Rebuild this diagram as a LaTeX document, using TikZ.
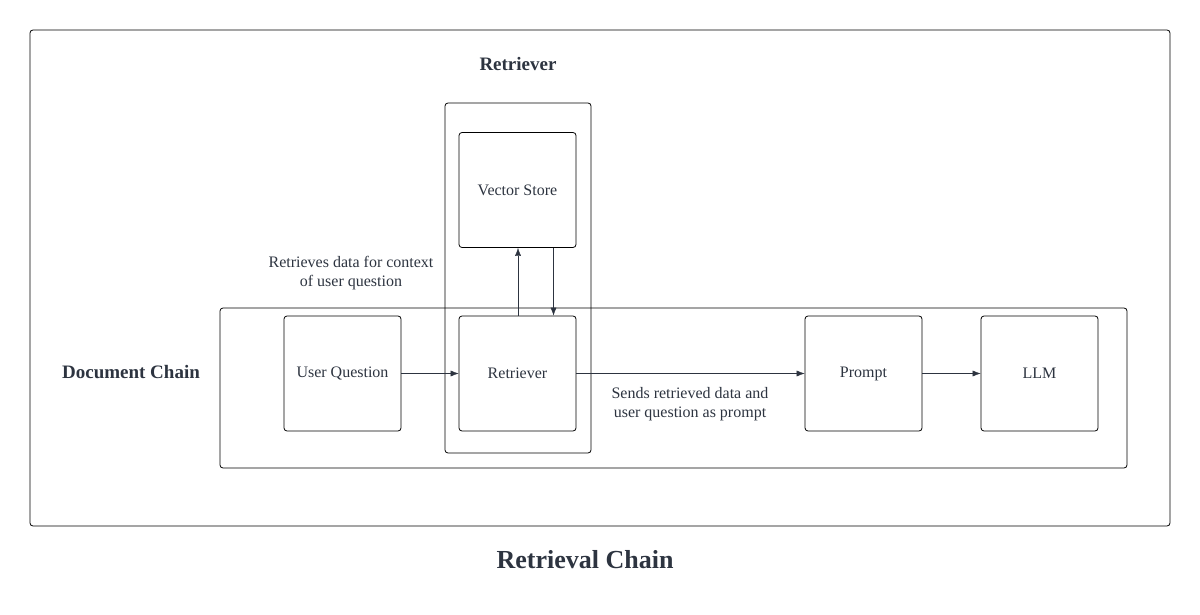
\documentclass[tikz,border=0pt]{standalone}
\usepackage{fontspec}
\setmainfont{Liberation Serif}
\usetikzlibrary{positioning,arrows.meta}
\definecolor{inkgray}{RGB}{45,52,64}
\begin{document}
\begin{tikzpicture}[x=1pt,y=-1pt,
	box/.style={draw=black,rounded corners=3pt,minimum width=117pt,minimum height=115pt,thick,text=inkgray,font=\fontsize{16}{19}\selectfont},
	frame/.style={draw=black,rounded corners=3pt,thick},
	lbl/.style={text=inkgray,font=\fontsize{16}{19}\selectfont,align=center},
	head/.style={text=inkgray,font=\bfseries\fontsize{19}{22}\selectfont},
	flow/.style={-{Latex[length=8pt,width=6pt]},draw=inkgray}]
	\useasboundingbox (0,0) rectangle (1200,615);
	% frames
	\draw[frame] (30,30) rectangle (1170,526);
	\draw[frame] (220,308) rectangle (1127,468);
	\draw[frame] (445,103) rectangle (591,453);
	
	% blocks
	\node[box] (store) at (517.5,190) {Vector Store};
	\node[box] (question) at (342.5,373.5) {User Question};
	\node[box] (retr) at (517.5,373.5) {Retriever};
	\node[box] (prompt) at (863.5,373.5) {Prompt};
	\node[box] (llm) at (1039.5,373.5) {LLM};
	
	% labels
	\node[head] (rtitle) at (518,64) {Retriever};
	\node[head] (dtitle) at (131,372) {Document Chain};
	\node[text=inkgray,font=\bfseries\fontsize{26}{30}\selectfont] (ctitle) at (585,560) {Retrieval Chain};
	\node[lbl] (fetch) at (351,273) {Retrieves data for context\\of user question};
	\node[lbl] (send) at (690,404) {Sends retrieved data and\\user question as prompt};
	
	% connectors
	\draw[flow] (question) -- (retr);
	\draw[flow] (retr) -- (prompt);
	\draw[flow] (prompt) -- (llm);
	\draw[flow] (retr.north) ++(0.5,0) -- ([xshift=0.5pt]store.south);
	\draw[flow] ([xshift=36pt]store.south) -- ([xshift=36pt]retr.north);
\end{tikzpicture}
\end{document}
